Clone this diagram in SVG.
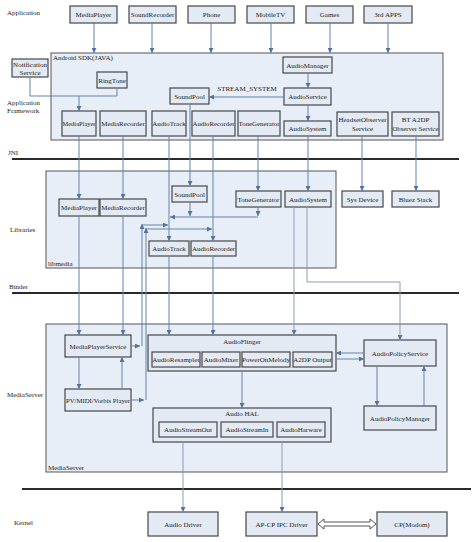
<svg xmlns="http://www.w3.org/2000/svg" width="474" height="542" viewBox="0 0 474 542">
<style>
.box{fill:#e3eaf4;stroke:#474747;stroke-width:1.2}
.cont{fill:#e8eef7;stroke:#555;stroke-width:1}
.t{font-family:"Liberation Serif","Times New Roman",serif;font-size:7px;text-anchor:middle;fill:#222}
.l{font-family:"Liberation Serif","Times New Roman",serif;font-size:7px;fill:#222}
.c{stroke:#6283ab;stroke-width:1;fill:none}
.g{stroke:#8d9bb0;stroke-width:1;fill:none}
.sep{stroke:#2a2a2a;stroke-width:1.8}
</style>
<defs>
<marker id="a" viewBox="0 0 6 6" refX="6" refY="3" markerWidth="5" markerHeight="5" markerUnits="userSpaceOnUse" orient="auto">
<path d="M0,0 L6,3 L0,6 z" fill="#4f74a0"/>
</marker>
</defs>
<rect width="474" height="542" fill="#fff"/>

<g id="layer-labels">
<text class="l" x="7" y="15">Application</text>
<text class="l" x="7" y="105">Application</text>
<text class="l" x="7" y="113">Framework</text>
<text class="l" x="8" y="155">JNI</text>
<text class="l" x="10" y="232">Libraries</text>
<text class="l" x="9" y="289">Binder</text>
<text class="l" x="7" y="397">MediaServer</text>
<text class="l" x="14" y="525">Kernel</text>
</g>

<g id="separators">
<line class="sep" x1="12" y1="159" x2="459" y2="159"/>
<line class="sep" x1="12" y1="293" x2="459" y2="293"/>
<line class="sep" x1="22" y1="489" x2="471" y2="489"/>
</g>

<g id="sdk"><rect class="cont" x="51" y="53" width="392" height="87"/><text class="l" x="53" y="60">Android SDK(JAVA)</text></g>
<g id="libmedia"><rect class="cont" x="46" y="171" width="290" height="97"/><text class="l" x="48" y="266">libmedia</text></g>
<g id="mediaserver"><rect class="cont" x="46" y="324" width="401" height="148"/><text class="l" x="48" y="470">MediaServer</text></g>

<g id="app-mediaplayer"><rect class="box" x="70" y="6" width="47" height="17"/><text class="t" x="93.5" y="17">MediaPlayer</text></g>
<g id="app-soundrecorder"><rect class="box" x="129" y="6" width="47" height="17"/><text class="t" x="152.5" y="17">SoundRecorder</text></g>
<g id="app-phone"><rect class="box" x="188" y="6" width="47" height="17"/><text class="t" x="211.5" y="17">Phone</text></g>
<g id="app-mobiletv"><rect class="box" x="247" y="6" width="47" height="17"/><text class="t" x="270.5" y="17">MobileTV</text></g>
<g id="app-games"><rect class="box" x="306" y="6" width="47" height="17"/><text class="t" x="329.5" y="17">Games</text></g>
<g id="app-3rd"><rect class="box" x="364" y="6" width="48" height="17"/><text class="t" x="388" y="17">3rd APPS</text></g>

<g id="notification"><rect class="box" x="12" y="59" width="36" height="18"/><text class="t" x="30" y="66.5">Notification</text><text class="t" x="30" y="74.5">Service</text></g>
<g id="ringtone"><rect class="box" x="97" y="72" width="30" height="16"/><text class="t" x="112" y="82.5">RingTone</text></g>
<g id="fw-soundpool"><rect class="box" x="170" y="88" width="39" height="16"/><text class="t" x="189.5" y="98.5">SoundPool</text></g>
<g id="audiomanager"><rect class="box" x="283" y="57" width="49" height="16"/><text class="t" x="307.5" y="67.5">AudioManager</text></g>
<g id="audioservice"><rect class="box" x="284" y="88" width="47" height="17"/><text class="t" x="307.5" y="99">AudioService</text></g>
<g id="fw-audiosystem"><rect class="box" x="284" y="121" width="47" height="15"/><text class="t" x="307.5" y="131">AudioSystem</text></g>
<g id="fw-mediaplayer"><rect class="box" x="62" y="111" width="34" height="25"/><text class="t" x="79" y="126" textLength="33" lengthAdjust="spacingAndGlyphs">MediaPlayer</text></g>
<g id="fw-mediarecorder"><rect class="box" x="100" y="111" width="46" height="25"/><text class="t" x="123" y="126">MediaRecorder</text></g>
<g id="fw-audiotrack"><rect class="box" x="152" y="111" width="34" height="25"/><text class="t" x="169" y="126">AudioTrack</text></g>
<g id="fw-audiorecorder"><rect class="box" x="192" y="111" width="43" height="25"/><text class="t" x="213.5" y="126" textLength="42" lengthAdjust="spacingAndGlyphs">AudioRecorder</text></g>
<g id="fw-tonegenerator"><rect class="box" x="238" y="111" width="42" height="25"/><text class="t" x="259" y="126" textLength="41" lengthAdjust="spacingAndGlyphs">ToneGenerator</text></g>
<g id="headset"><rect class="box" x="337" y="112" width="51" height="24"/><text class="t" x="362.5" y="121.5">HeadsetObserver</text><text class="t" x="362.5" y="130.5">Service</text></g>
<g id="bt"><rect class="box" x="392" y="112" width="47" height="24"/><text class="t" x="415.5" y="121.5">BT A2DP</text><text class="t" x="415.5" y="130.5" textLength="46" lengthAdjust="spacingAndGlyphs">Observer Service</text></g>

<g id="lib-mediaplayer"><rect class="box" x="59" y="199" width="40" height="17"/><text class="t" x="79" y="210">MediaPlayer</text></g>
<g id="lib-mediarecorder"><rect class="box" x="100" y="199" width="46" height="17"/><text class="t" x="123" y="210">MediaRecorder</text></g>
<g id="lib-soundpool"><rect class="box" x="172" y="186" width="35" height="16"/><text class="t" x="189.5" y="196.5">SoundPool</text></g>
<g id="lib-tonegenerator"><rect class="box" x="236" y="191" width="45" height="16"/><text class="t" x="258.5" y="201.5">ToneGenerator</text></g>
<g id="lib-audiosystem"><rect class="box" x="285" y="191" width="46" height="16"/><text class="t" x="308" y="201.5">AudioSystem</text></g>
<g id="sysdevice"><rect class="box" x="342" y="191" width="41" height="16"/><text class="t" x="362.5" y="201.5">Sys Device</text></g>
<g id="bluez"><rect class="box" x="392" y="191" width="47" height="16"/><text class="t" x="415.5" y="201.5">Bluez Stack</text></g>
<g id="lib-audiotrack"><rect class="box" x="149" y="241" width="40" height="15"/><text class="t" x="169" y="251">AudioTrack</text></g>
<g id="lib-audiorecorder"><rect class="box" x="191" y="241" width="45" height="15"/><text class="t" x="213.5" y="251">AudioRecorder</text></g>

<g id="mediaplayerservice"><rect class="box" x="65" y="335" width="66" height="22"/><text class="t" x="98" y="348.5">MediaPlayerService</text></g>
<g id="pvplayer"><rect class="box" x="65" y="389" width="66" height="22"/><text class="t" x="98" y="402.5" textLength="64" lengthAdjust="spacingAndGlyphs">PV/MIDI/Vorbis Player</text></g>
<g id="audioflinger"><rect class="box" x="148" y="335" width="188" height="36"/><text class="t" x="242" y="343.5">AudioFlinger</text>
<rect class="box" x="152" y="352" width="48" height="15"/><text class="t" x="176" y="362">AudioResampler</text>
<rect class="box" x="202" y="352" width="38" height="15"/><text class="t" x="221" y="362">AudioMixer</text>
<rect class="box" x="242" y="352" width="48" height="15"/><text class="t" x="266" y="362">PowerOnMelody</text>
<rect class="box" x="293" y="352" width="39" height="15"/><text class="t" x="312.5" y="362">A2DP Output</text></g>
<g id="audiopolicyservice"><rect class="box" x="364" y="340" width="72" height="26"/><text class="t" x="400" y="355.5">AudioPolicyService</text></g>
<g id="audiopolicymanager"><rect class="box" x="364" y="406" width="72" height="24"/><text class="t" x="400" y="420.5">AudioPolicyManager</text></g>
<g id="audiohal"><rect class="box" x="153" y="408" width="178" height="34"/><text class="t" x="242" y="416">Audio HAL</text>
<rect class="box" x="159" y="422" width="58" height="15"/><text class="t" x="188" y="432">AudioStreamOut</text>
<rect class="box" x="221" y="422" width="52" height="15"/><text class="t" x="247" y="432">AudioStreamIn</text>
<rect class="box" x="277" y="422" width="48" height="15"/><text class="t" x="301" y="432">AudioHarware</text></g>

<g id="audiodriver"><rect class="box" x="148" y="512" width="70" height="24"/><text class="t" x="183" y="526.5">Audio Driver</text></g>
<g id="apcp"><rect class="box" x="246" y="512" width="71" height="24"/><text class="t" x="281.5" y="526.5">AP-CP IPC Driver</text></g>
<g id="cp"><rect class="box" x="377" y="512" width="70" height="24"/><text class="t" x="412" y="526.5">CP(Modom)</text></g>

<g id="connectors">
<path class="c" marker-end="url(#a)" d="M94,23 V53"/>
<path class="c" marker-end="url(#a)" d="M152,23 V53"/>
<path class="c" marker-end="url(#a)" d="M211,23 V53"/>
<path class="c" marker-end="url(#a)" d="M271,23 V53"/>
<path class="c" marker-end="url(#a)" d="M330,23 V53"/>
<path class="c" marker-end="url(#a)" d="M388,23 V53"/>
<path class="c" d="M30,77 V96 H117 V88"/>
<path class="c" marker-end="url(#a)" d="M79,96 V111"/>
<path class="c" marker-end="url(#a)" d="M308,73 V88"/>
<path class="c" marker-end="url(#a)" d="M308,105 V121"/>
<path class="c" marker-end="url(#a)" d="M284,97 H209"/>
<text class="t" x="247" y="91">STREAM_SYSTEM</text>

<path class="c" marker-end="url(#a)" d="M79,136 V199"/>
<path class="c" marker-end="url(#a)" d="M123,136 V199"/>
<path class="c" marker-end="url(#a)" d="M169,136 V241"/>
<path class="c" marker-end="url(#a)" d="M190,104 V186"/>
<path class="c" marker-end="url(#a)" d="M213,136 V241"/>
<path class="c" marker-end="url(#a)" d="M258,136 V191"/>
<path class="c" marker-end="url(#a)" d="M308,136 V191"/>
<path class="c" marker-end="url(#a)" d="M362,136 V191"/>
<path class="c" marker-end="url(#a)" d="M416,136 V191"/>

<path class="c" marker-end="url(#a)" d="M190,202 V216"/>
<path class="c" marker-end="url(#a)" d="M258,207 V216"/>
<path class="c" marker-end="url(#a)" d="M258,217 H170"/>

<path class="c" marker-end="url(#a)" d="M131,346 H140"/>
<path class="c" marker-end="url(#a)" d="M142,346 V224"/>
<path class="c" marker-end="url(#a)" d="M142,225 H168"/>
<path class="c" marker-end="url(#a)" d="M131,400 H144"/>
<path class="c" marker-end="url(#a)" d="M146,400 V228"/>
<path class="c" marker-end="url(#a)" d="M146,229 H212"/>

<path class="c" marker-end="url(#a)" d="M79,216 V335"/>
<path class="c" marker-end="url(#a)" d="M123,216 V335"/>
<path class="c" marker-end="url(#a)" d="M169,256 V335"/>
<path class="c" marker-end="url(#a)" d="M213,256 V335"/>
<path class="g" marker-end="url(#a)" d="M294,207 V335"/>
<path class="g" marker-end="url(#a)" d="M307,207 V282 H400 V340"/>

<path class="c" marker-end="url(#a)" d="M79,357 V389"/>
<path class="c" marker-end="url(#a)" d="M122,389 V357"/>
<path class="c" marker-end="url(#a)" d="M364,353 H336"/>
<path class="c" marker-end="url(#a)" d="M336,359 H364"/>
<path class="c" marker-end="url(#a)" d="M377,366 V406"/>
<path class="c" marker-end="url(#a)" d="M424,406 V366"/>
<path class="c" marker-end="url(#a)" d="M242,371 V408"/>
<path class="g" marker-end="url(#a)" d="M183,442 V512"/>
<path class="g" marker-end="url(#a)" d="M282,442 V512"/>
<polygon points="318,524 324,519 324,522 370,522 370,519 376,524 370,529 370,526 324,526 324,529" fill="#fff" stroke="#444" stroke-width="0.9"/>
</g>
</svg>
